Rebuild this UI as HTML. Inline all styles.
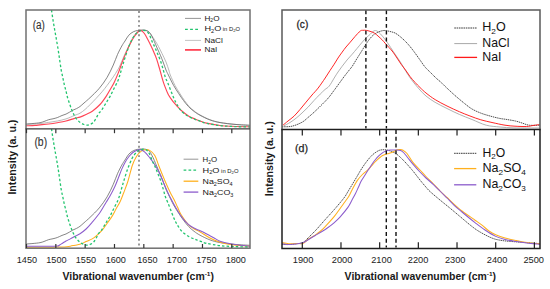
<!DOCTYPE html>
<html><head><meta charset="utf-8"><style>
html,body{margin:0;padding:0;background:#fff;}
svg{display:block;font-family:"Liberation Sans", sans-serif;}
</style></head><body>
<svg width="550" height="289" viewBox="0 0 550 289">
<defs><clipPath id="ca"><rect x="26" y="10" width="224" height="118.8"/></clipPath><clipPath id="cb"><rect x="26" y="128.8" width="224" height="119.2"/></clipPath><clipPath id="cc"><rect x="282" y="10" width="258" height="119"/></clipPath><clipPath id="cd"><rect x="282" y="129" width="258" height="119.4"/></clipPath></defs>
<g clip-path="url(#ca)">
<path d="M26.00,124.50 C27.17,124.43 30.67,124.25 33.00,124.10 C35.33,123.95 37.38,123.88 40.00,123.60 C42.62,123.32 45.82,122.83 48.70,122.40 C51.58,121.97 54.42,121.58 57.30,121.00 C60.18,120.42 63.12,119.83 66.00,118.90 C68.88,117.97 72.27,116.35 74.60,115.40 C76.93,114.45 78.27,114.18 80.00,113.20 C81.73,112.22 83.33,110.92 85.00,109.50 C86.67,108.08 88.17,106.53 90.00,104.70 C91.83,102.87 93.93,100.72 96.00,98.50 C98.07,96.28 100.57,93.57 102.40,91.40 C104.23,89.23 105.43,87.57 107.00,85.50 C108.57,83.43 110.38,81.00 111.80,79.00 C113.22,77.00 114.33,75.32 115.50,73.50 C116.67,71.68 117.80,70.02 118.80,68.10 C119.80,66.18 120.55,64.18 121.50,62.00 C122.45,59.82 123.45,57.33 124.50,55.00 C125.55,52.67 126.72,50.33 127.80,48.00 C128.88,45.67 129.88,43.17 131.00,41.00 C132.12,38.83 133.33,36.58 134.50,35.00 C135.67,33.42 136.67,32.30 138.00,31.50 C139.33,30.70 141.00,30.32 142.50,30.20 C144.00,30.08 145.58,30.08 147.00,30.80 C148.42,31.52 149.67,32.88 151.00,34.50 C152.33,36.12 153.75,38.50 155.00,40.50 C156.25,42.50 157.33,44.33 158.50,46.50 C159.67,48.67 160.75,50.92 162.00,53.50 C163.25,56.08 164.87,59.25 166.00,62.00 C167.13,64.75 168.08,67.83 168.80,70.00 C169.52,72.17 169.27,72.43 170.30,75.00 C171.33,77.57 173.38,82.28 175.00,85.40 C176.62,88.52 178.42,91.18 180.00,93.70 C181.58,96.22 182.95,98.35 184.50,100.50 C186.05,102.65 187.63,104.82 189.30,106.60 C190.97,108.38 192.63,109.78 194.50,111.20 C196.37,112.62 197.93,113.68 200.50,115.10 C203.07,116.52 206.65,118.48 209.90,119.70 C213.15,120.92 215.82,121.62 220.00,122.40 C224.18,123.18 230.00,123.92 235.00,124.40 C240.00,124.88 247.50,125.15 250.00,125.30" fill="none" stroke="#a8a8a8" stroke-width="0.8" stroke-linejoin="round"/>
<path d="M26.00,124.00 C27.17,123.92 30.67,123.72 33.00,123.50 C35.33,123.28 38.17,123.03 40.00,122.70 C41.83,122.37 42.55,122.00 44.00,121.50 C45.45,121.00 47.20,120.15 48.70,119.70 C50.20,119.25 51.57,119.15 53.00,118.80 C54.43,118.45 55.80,118.15 57.30,117.60 C58.80,117.05 60.55,116.08 62.00,115.50 C63.45,114.92 64.75,114.65 66.00,114.10 C67.25,113.55 68.35,112.85 69.50,112.20 C70.65,111.55 71.73,110.80 72.90,110.20 C74.07,109.60 75.32,109.22 76.50,108.60 C77.68,107.98 78.75,107.43 80.00,106.50 C81.25,105.57 82.33,104.47 84.00,103.00 C85.67,101.53 87.45,100.15 90.00,97.70 C92.55,95.25 96.45,91.68 99.30,88.30 C102.15,84.92 104.77,81.28 107.10,77.40 C109.43,73.52 111.57,68.82 113.30,65.00 C115.03,61.18 116.08,57.67 117.50,54.50 C118.92,51.33 120.55,48.25 121.80,46.00 C123.05,43.75 123.83,42.80 125.00,41.00 C126.17,39.20 127.42,36.73 128.80,35.20 C130.18,33.67 131.85,32.58 133.30,31.80 C134.75,31.02 136.13,30.78 137.50,30.50 C138.87,30.22 140.12,30.12 141.50,30.10 C142.88,30.08 144.45,29.98 145.80,30.40 C147.15,30.82 148.40,31.25 149.60,32.60 C150.80,33.95 152.00,36.52 153.00,38.50 C154.00,40.48 154.77,42.58 155.60,44.50 C156.43,46.42 157.18,48.17 158.00,50.00 C158.82,51.83 159.65,53.50 160.50,55.50 C161.35,57.50 162.18,59.58 163.10,62.00 C164.02,64.42 165.12,67.83 166.00,70.00 C166.88,72.17 167.13,72.43 168.40,75.00 C169.67,77.57 171.87,82.28 173.60,85.40 C175.33,88.52 177.15,91.18 178.80,93.70 C180.45,96.22 181.88,98.35 183.50,100.50 C185.12,102.65 186.75,104.78 188.50,106.60 C190.25,108.42 192.08,109.95 194.00,111.40 C195.92,112.85 197.35,113.88 200.00,115.30 C202.65,116.72 206.57,118.68 209.90,119.90 C213.23,121.12 215.82,121.85 220.00,122.60 C224.18,123.35 230.00,123.95 235.00,124.40 C240.00,124.85 247.50,125.15 250.00,125.30" fill="none" stroke="#666666" stroke-width="0.8" stroke-linejoin="round"/>
<path d="M26.00,125.80 C27.50,125.73 32.67,125.55 35.00,125.40 C37.33,125.25 37.72,125.13 40.00,124.90 C42.28,124.67 45.82,124.37 48.70,124.00 C51.58,123.63 54.42,123.20 57.30,122.70 C60.18,122.20 63.12,121.72 66.00,121.00 C68.88,120.28 72.27,119.05 74.60,118.40 C76.93,117.75 78.10,117.75 80.00,117.10 C81.90,116.45 83.95,115.48 86.00,114.50 C88.05,113.52 89.97,112.87 92.30,111.20 C94.63,109.53 97.67,107.02 100.00,104.50 C102.33,101.98 104.55,98.68 106.30,96.10 C108.05,93.52 109.15,91.35 110.50,89.00 C111.85,86.65 113.07,84.77 114.40,82.00 C115.73,79.23 117.40,75.15 118.50,72.40 C119.60,69.65 120.15,67.80 121.00,65.50 C121.85,63.20 122.73,60.77 123.60,58.60 C124.47,56.43 125.33,54.52 126.20,52.50 C127.07,50.48 127.93,48.33 128.80,46.50 C129.67,44.67 130.53,43.08 131.40,41.50 C132.27,39.92 133.13,38.33 134.00,37.00 C134.87,35.67 135.73,34.50 136.60,33.50 C137.47,32.50 138.47,31.52 139.20,31.00 C139.93,30.48 140.13,29.98 141.00,30.40 C141.87,30.82 143.27,31.98 144.40,33.50 C145.53,35.02 146.65,37.33 147.80,39.50 C148.95,41.67 150.27,44.33 151.30,46.50 C152.33,48.67 153.13,50.48 154.00,52.50 C154.87,54.52 155.73,56.43 156.50,58.60 C157.27,60.77 157.93,63.27 158.60,65.50 C159.27,67.73 159.87,69.75 160.50,72.00 C161.13,74.25 161.73,76.77 162.40,79.00 C163.07,81.23 163.50,82.78 164.50,85.40 C165.50,88.02 166.88,91.90 168.40,94.70 C169.92,97.50 172.23,100.38 173.60,102.20 C174.97,104.02 175.22,104.13 176.60,105.60 C177.98,107.07 179.87,109.23 181.90,111.00 C183.93,112.77 186.62,114.87 188.80,116.20 C190.98,117.53 193.13,118.20 195.00,119.00 C196.87,119.80 198.08,120.32 200.00,121.00 C201.92,121.68 203.17,122.35 206.50,123.10 C209.83,123.85 216.02,124.97 220.00,125.50 C223.98,126.03 225.40,126.08 230.40,126.30 C235.40,126.52 246.73,126.72 250.00,126.80" fill="none" stroke="#ff4455" stroke-width="1.15" stroke-linejoin="round"/>
<path d="M51.50,10.00 C51.75,11.67 52.47,16.67 53.00,20.00 C53.53,23.33 54.12,26.67 54.70,30.00 C55.28,33.33 55.92,36.67 56.50,40.00 C57.08,43.33 57.67,46.67 58.20,50.00 C58.73,53.33 59.20,56.65 59.70,60.00 C60.20,63.35 60.68,67.18 61.20,70.10 C61.72,73.02 62.28,75.08 62.80,77.50 C63.32,79.92 63.77,82.35 64.30,84.60 C64.83,86.85 65.48,88.93 66.00,91.00 C66.52,93.07 66.82,94.92 67.40,97.00 C67.98,99.08 68.80,101.42 69.50,103.50 C70.20,105.58 70.92,107.75 71.60,109.50 C72.28,111.25 72.92,112.62 73.60,114.00 C74.28,115.38 74.92,116.67 75.70,117.80 C76.48,118.93 77.43,119.93 78.30,120.80 C79.17,121.67 79.95,122.38 80.90,123.00 C81.85,123.62 82.95,124.15 84.00,124.50 C85.05,124.85 86.15,125.13 87.20,125.10 C88.25,125.07 89.27,124.75 90.30,124.30 C91.33,123.85 92.45,123.37 93.40,122.40 C94.35,121.43 95.13,119.97 96.00,118.50 C96.87,117.03 97.65,115.02 98.60,113.60 C99.55,112.18 100.47,111.77 101.70,110.00 C102.93,108.23 104.58,105.32 106.00,103.00 C107.42,100.68 108.87,98.52 110.20,96.10 C111.53,93.68 112.70,91.08 114.00,88.50 C115.30,85.92 117.00,82.93 118.00,80.60 C119.00,78.27 119.35,76.58 120.00,74.50 C120.65,72.42 121.23,70.35 121.90,68.10 C122.57,65.85 123.05,64.02 124.00,61.00 C124.95,57.98 126.28,53.55 127.60,50.00 C128.92,46.45 130.67,42.20 131.90,39.70 C133.13,37.20 134.07,36.23 135.00,35.00 C135.93,33.77 136.58,33.00 137.50,32.30 C138.42,31.60 139.42,31.12 140.50,30.80 C141.58,30.48 142.92,30.28 144.00,30.40 C145.08,30.52 146.08,30.73 147.00,31.50 C147.92,32.27 148.62,33.27 149.50,35.00 C150.38,36.73 151.38,39.82 152.30,41.90 C153.22,43.98 154.13,45.57 155.00,47.50 C155.87,49.43 156.58,51.25 157.50,53.50 C158.42,55.75 159.53,58.25 160.50,61.00 C161.47,63.75 162.50,67.32 163.30,70.00 C164.10,72.68 164.53,74.88 165.30,77.10 C166.07,79.32 166.95,80.97 167.90,83.30 C168.85,85.63 169.97,88.50 171.00,91.10 C172.03,93.70 173.12,96.70 174.10,98.90 C175.08,101.10 175.60,102.18 176.90,104.30 C178.20,106.42 179.92,109.55 181.90,111.60 C183.88,113.65 186.62,115.32 188.80,116.60 C190.98,117.88 193.13,118.55 195.00,119.30 C196.87,120.05 198.08,120.43 200.00,121.10 C201.92,121.77 203.17,122.55 206.50,123.30 C209.83,124.05 215.25,125.05 220.00,125.60 C224.75,126.15 230.00,126.37 235.00,126.60 C240.00,126.83 247.50,126.93 250.00,127.00" fill="none" stroke="#22c46e" stroke-width="1.3" stroke-dasharray="2.5 2.1" stroke-linejoin="round"/>
</g>
<g clip-path="url(#cb)">
<path d="M26.00,244.00 C27.17,243.91 30.67,243.71 33.00,243.49 C35.33,243.27 38.17,243.02 40.00,242.68 C41.83,242.34 42.55,241.97 44.00,241.47 C45.45,240.96 47.20,240.10 48.70,239.64 C50.20,239.19 51.57,239.09 53.00,238.73 C54.43,238.38 55.80,238.08 57.30,237.52 C58.80,236.96 60.55,235.99 62.00,235.40 C63.45,234.81 64.75,234.54 66.00,233.98 C67.25,233.42 68.35,232.71 69.50,232.06 C70.65,231.40 71.73,230.64 72.90,230.03 C74.07,229.43 75.32,229.04 76.50,228.41 C77.68,227.79 78.75,227.23 80.00,226.29 C81.25,225.35 82.33,224.23 84.00,222.75 C85.67,221.27 87.45,219.87 90.00,217.39 C92.55,214.91 96.45,211.30 99.30,207.88 C102.15,204.45 104.77,200.78 107.10,196.85 C109.43,192.92 111.57,188.17 113.30,184.30 C115.03,180.44 116.08,176.89 117.50,173.68 C118.92,170.48 120.55,167.36 121.80,165.08 C123.05,162.81 123.83,161.85 125.00,160.02 C126.17,158.20 127.42,155.71 128.80,154.16 C130.18,152.60 131.85,151.51 133.30,150.72 C134.75,149.92 136.13,149.69 137.50,149.40 C138.87,149.11 140.12,149.01 141.50,149.00 C142.88,148.98 144.45,148.88 145.80,149.30 C147.15,149.72 148.40,150.16 149.60,151.53 C150.80,152.89 152.00,155.49 153.00,157.49 C154.00,159.50 154.77,161.63 155.60,163.56 C156.43,165.50 157.18,167.27 158.00,169.13 C158.82,170.98 159.65,172.67 160.50,174.69 C161.35,176.72 162.18,178.82 163.10,181.27 C164.02,183.71 165.12,187.17 166.00,189.36 C166.88,191.56 167.13,191.83 168.40,194.42 C169.67,197.02 171.87,201.79 173.60,204.94 C175.33,208.10 177.15,210.79 178.80,213.34 C180.45,215.89 181.88,218.05 183.50,220.22 C185.12,222.40 186.75,224.55 188.50,226.39 C190.25,228.23 192.08,229.78 194.00,231.25 C195.92,232.71 197.35,233.76 200.00,235.19 C202.65,236.63 206.57,238.62 209.90,239.85 C213.23,241.08 215.82,241.82 220.00,242.58 C224.18,243.34 230.00,243.94 235.00,244.40 C240.00,244.86 247.50,245.16 250.00,245.31" fill="none" stroke="#666666" stroke-width="0.8" stroke-linejoin="round"/>
<path d="M26.00,247.30 C29.17,247.30 39.83,247.33 45.00,247.30 C50.17,247.27 53.80,247.15 57.00,247.10 C60.20,247.05 61.98,247.15 64.20,247.00 C66.42,246.85 68.50,246.50 70.30,246.20 C72.10,245.90 73.38,245.52 75.00,245.20 C76.62,244.88 78.17,244.90 80.00,244.30 C81.83,243.70 83.97,242.50 86.00,241.60 C88.03,240.70 90.37,239.97 92.20,238.90 C94.03,237.83 95.33,236.65 97.00,235.20 C98.67,233.75 100.53,232.15 102.20,230.20 C103.87,228.25 105.33,225.85 107.00,223.50 C108.67,221.15 110.70,218.52 112.20,216.10 C113.70,213.68 114.67,211.43 116.00,209.00 C117.33,206.57 118.93,204.17 120.20,201.50 C121.47,198.83 122.30,196.42 123.60,193.00 C124.90,189.58 126.55,185.58 128.00,181.00 C129.45,176.42 130.87,169.62 132.30,165.50 C133.73,161.38 135.17,158.67 136.60,156.30 C138.03,153.93 139.45,152.40 140.90,151.30 C142.35,150.20 143.85,149.85 145.30,149.70 C146.75,149.55 148.02,149.45 149.60,150.40 C151.18,151.35 153.32,152.97 154.80,155.40 C156.28,157.83 157.22,161.73 158.50,165.00 C159.78,168.27 161.07,171.53 162.50,175.00 C163.93,178.47 165.77,182.80 167.10,185.80 C168.43,188.80 169.35,190.70 170.50,193.00 C171.65,195.30 172.83,197.27 174.00,199.60 C175.17,201.93 176.33,204.52 177.50,207.00 C178.67,209.48 179.20,211.58 181.00,214.50 C182.80,217.42 186.13,222.12 188.30,224.50 C190.47,226.88 192.02,227.55 194.00,228.80 C195.98,230.05 197.55,230.47 200.20,232.00 C202.85,233.53 206.57,236.28 209.90,238.00 C213.23,239.72 216.78,241.22 220.20,242.30 C223.62,243.38 227.10,243.97 230.40,244.50 C233.70,245.03 236.73,245.22 240.00,245.50 C243.27,245.78 248.33,246.08 250.00,246.20" fill="none" stroke="#ffb01e" stroke-width="1.05" stroke-linejoin="round"/>
<path d="M26.00,246.30 C28.33,246.28 36.00,246.22 40.00,246.20 C44.00,246.18 47.12,246.22 50.00,246.20 C52.88,246.18 55.63,246.33 57.30,246.10 C58.97,245.87 59.13,245.28 60.00,244.80 C60.87,244.32 61.50,243.83 62.50,243.20 C63.50,242.57 64.70,241.72 66.00,241.00 C67.30,240.28 68.80,239.68 70.30,238.90 C71.80,238.12 73.38,237.17 75.00,236.30 C76.62,235.43 78.15,234.92 80.00,233.70 C81.85,232.48 84.10,230.87 86.10,229.00 C88.10,227.13 89.68,225.25 92.00,222.50 C94.32,219.75 97.67,215.83 100.00,212.50 C102.33,209.17 104.33,205.25 106.00,202.50 C107.67,199.75 108.50,198.72 110.00,196.00 C111.50,193.28 113.58,189.28 115.00,186.20 C116.42,183.12 117.35,180.38 118.50,177.50 C119.65,174.62 120.77,171.48 121.90,168.90 C123.03,166.32 124.15,164.02 125.30,162.00 C126.45,159.98 127.63,158.30 128.80,156.80 C129.97,155.30 131.13,154.00 132.30,153.00 C133.47,152.00 134.50,151.37 135.80,150.80 C137.10,150.23 138.90,149.60 140.10,149.60 C141.30,149.60 142.00,150.17 143.00,150.80 C144.00,151.43 145.02,152.28 146.10,153.40 C147.18,154.52 148.35,156.07 149.50,157.50 C150.65,158.93 151.83,160.33 153.00,162.00 C154.17,163.67 155.33,165.42 156.50,167.50 C157.67,169.58 158.92,172.17 160.00,174.50 C161.08,176.83 161.92,179.00 163.00,181.50 C164.08,184.00 165.42,187.08 166.50,189.50 C167.58,191.92 168.53,194.03 169.50,196.00 C170.47,197.97 171.22,199.30 172.30,201.30 C173.38,203.30 174.70,205.75 176.00,208.00 C177.30,210.25 178.77,212.83 180.10,214.80 C181.43,216.77 182.63,218.22 184.00,219.80 C185.37,221.38 186.80,223.02 188.30,224.30 C189.80,225.58 191.35,226.57 193.00,227.50 C194.65,228.43 196.37,229.07 198.20,229.90 C200.03,230.73 202.05,231.53 204.00,232.50 C205.95,233.47 208.07,234.70 209.90,235.70 C211.73,236.70 213.32,237.58 215.00,238.50 C216.68,239.42 217.43,240.32 220.00,241.20 C222.57,242.08 227.07,243.12 230.40,243.80 C233.73,244.48 236.73,244.90 240.00,245.30 C243.27,245.70 248.33,246.05 250.00,246.20" fill="none" stroke="#8c5ccc" stroke-width="1.05" stroke-linejoin="round"/>
<path d="M51.50,128.80 C51.75,130.46 52.47,135.43 53.00,138.78 C53.53,142.13 54.12,145.52 54.70,148.90 C55.28,152.27 55.92,155.64 56.50,159.01 C57.08,162.38 57.67,165.76 58.20,169.13 C58.73,172.50 59.20,175.86 59.70,179.25 C60.20,182.64 60.68,186.51 61.20,189.46 C61.72,192.42 62.28,194.51 62.80,196.95 C63.32,199.40 63.77,201.86 64.30,204.13 C64.83,206.41 65.48,208.52 66.00,210.61 C66.52,212.70 66.82,214.57 67.40,216.68 C67.98,218.79 68.80,221.15 69.50,223.26 C70.20,225.36 70.92,227.55 71.60,229.33 C72.28,231.10 72.92,232.48 73.60,233.88 C74.28,235.28 74.92,236.58 75.70,237.72 C76.48,238.87 77.43,239.88 78.30,240.76 C79.17,241.63 79.95,242.36 80.90,242.98 C81.85,243.61 82.95,244.15 84.00,244.50 C85.05,244.86 86.15,245.14 87.20,245.11 C88.25,245.07 89.27,244.75 90.30,244.30 C91.33,243.84 92.45,243.35 93.40,242.38 C94.35,241.40 95.13,239.91 96.00,238.43 C96.87,236.95 97.65,234.91 98.60,233.47 C99.55,232.04 100.47,231.62 101.70,229.83 C102.93,228.04 104.58,225.09 106.00,222.75 C107.42,220.41 108.87,218.21 110.20,215.77 C111.53,213.32 112.70,210.69 114.00,208.08 C115.30,205.47 117.00,202.45 118.00,200.09 C119.00,197.73 119.35,196.02 120.00,193.92 C120.65,191.81 121.23,189.72 121.90,187.44 C122.57,185.16 123.05,183.31 124.00,180.26 C124.95,177.21 126.28,172.72 127.60,169.13 C128.92,165.54 130.67,161.24 131.90,158.71 C133.13,156.18 134.07,155.20 135.00,153.95 C135.93,152.71 136.58,151.93 137.50,151.22 C138.42,150.51 139.42,150.03 140.50,149.70 C141.58,149.38 142.92,149.18 144.00,149.30 C145.08,149.42 146.08,149.64 147.00,150.41 C147.92,151.19 148.62,152.20 149.50,153.95 C150.38,155.71 151.38,158.83 152.30,160.93 C153.22,163.04 154.13,164.64 155.00,166.60 C155.87,168.56 156.58,170.39 157.50,172.67 C158.42,174.95 159.53,177.48 160.50,180.26 C161.47,183.04 162.50,186.65 163.30,189.36 C164.10,192.08 164.53,194.30 165.30,196.55 C166.07,198.79 166.95,200.46 167.90,202.82 C168.85,205.18 169.97,208.08 171.00,210.71 C172.03,213.34 173.12,216.38 174.10,218.60 C175.08,220.83 175.60,221.92 176.90,224.06 C178.20,226.21 179.92,229.38 181.90,231.45 C183.88,233.52 186.62,235.21 188.80,236.51 C190.98,237.81 193.13,238.48 195.00,239.24 C196.87,240.00 198.08,240.39 200.00,241.06 C201.92,241.74 203.17,242.53 206.50,243.29 C209.83,244.05 215.25,245.06 220.00,245.61 C224.75,246.17 230.00,246.39 235.00,246.63 C240.00,246.86 247.50,246.96 250.00,247.03" fill="none" stroke="#22c46e" stroke-width="1.3" stroke-dasharray="2.5 2.1" stroke-linejoin="round"/>
</g>
<g clip-path="url(#cc)">
<path d="M284.00,125.80 C285.00,125.25 287.98,123.77 290.00,122.50 C292.02,121.23 294.10,119.78 296.10,118.20 C298.10,116.62 300.00,114.85 302.00,113.00 C304.00,111.15 306.10,109.18 308.10,107.10 C310.10,105.02 311.98,102.67 314.00,100.50 C316.02,98.33 318.37,95.93 320.20,94.10 C322.03,92.27 323.50,90.83 325.00,89.50 C326.50,88.17 327.67,88.02 329.20,86.10 C330.73,84.18 332.73,80.35 334.20,78.00 C335.67,75.65 336.67,73.97 338.00,72.00 C339.33,70.03 340.70,68.20 342.20,66.20 C343.70,64.20 345.32,62.02 347.00,60.00 C348.68,57.98 350.63,56.02 352.30,54.10 C353.97,52.18 355.33,50.50 357.00,48.50 C358.67,46.50 360.80,43.85 362.30,42.10 C363.80,40.35 364.65,39.33 366.00,38.00 C367.35,36.67 369.23,35.18 370.40,34.10 C371.57,33.02 372.17,32.10 373.00,31.50 C373.83,30.90 374.48,30.42 375.40,30.50 C376.32,30.58 377.33,31.07 378.50,32.00 C379.67,32.93 381.23,34.77 382.40,36.10 C383.57,37.43 384.50,38.67 385.50,40.00 C386.50,41.33 387.15,42.25 388.40,44.10 C389.65,45.95 391.57,48.95 393.00,51.10 C394.43,53.25 395.65,54.98 397.00,57.00 C398.35,59.02 399.60,60.78 401.10,63.20 C402.60,65.62 404.33,68.83 406.00,71.50 C407.67,74.17 408.95,76.32 411.10,79.20 C413.25,82.08 416.42,86.00 418.90,88.80 C421.38,91.60 423.30,93.75 426.00,96.00 C428.70,98.25 431.60,100.22 435.10,102.30 C438.60,104.38 442.97,106.48 447.00,108.50 C451.03,110.52 455.13,112.57 459.30,114.40 C463.47,116.23 467.52,117.70 472.00,119.50 C476.48,121.30 481.53,123.95 486.20,125.20 C490.87,126.45 495.52,126.55 500.00,127.00 C504.48,127.45 508.43,127.73 513.10,127.90 C517.77,128.07 523.68,127.98 528.00,128.00 C532.32,128.02 537.17,128.00 539.00,128.00" fill="none" stroke="#a8a8a8" stroke-width="0.9" stroke-linejoin="round"/>
<path d="M282.00,126.80 C283.67,126.70 288.65,126.97 292.00,126.20 C295.35,125.43 299.43,123.65 302.10,122.20 C304.77,120.75 306.00,119.17 308.00,117.50 C310.00,115.83 311.93,114.20 314.10,112.20 C316.27,110.20 318.65,107.85 321.00,105.50 C323.35,103.15 326.03,100.60 328.20,98.10 C330.37,95.60 332.00,93.18 334.00,90.50 C336.00,87.82 338.50,84.33 340.20,82.00 C341.90,79.67 342.68,78.50 344.20,76.50 C345.72,74.50 347.95,71.72 349.30,70.00 C350.65,68.28 351.02,68.12 352.30,66.20 C353.58,64.28 355.33,61.18 357.00,58.50 C358.67,55.82 360.80,52.52 362.30,50.10 C363.80,47.68 364.65,46.00 366.00,44.00 C367.35,42.00 369.07,39.68 370.40,38.10 C371.73,36.52 372.67,35.52 374.00,34.50 C375.33,33.48 377.07,32.62 378.40,32.00 C379.73,31.38 380.83,31.05 382.00,30.80 C383.17,30.55 384.07,30.38 385.40,30.50 C386.73,30.62 388.40,31.08 390.00,31.50 C391.60,31.92 393.33,32.17 395.00,33.00 C396.67,33.83 398.32,35.15 400.00,36.50 C401.68,37.85 403.43,39.43 405.10,41.10 C406.77,42.77 408.33,44.50 410.00,46.50 C411.67,48.50 413.43,50.85 415.10,53.10 C416.77,55.35 418.32,57.65 420.00,60.00 C421.68,62.35 423.33,65.00 425.20,67.20 C427.07,69.40 429.40,71.40 431.20,73.20 C433.00,75.00 434.33,76.45 436.00,78.00 C437.67,79.55 439.57,81.00 441.20,82.50 C442.83,84.00 443.50,84.83 445.80,87.00 C448.10,89.17 451.85,92.73 455.00,95.50 C458.15,98.27 461.87,101.35 464.70,103.60 C467.53,105.85 469.32,107.42 472.00,109.00 C474.68,110.58 477.80,111.93 480.80,113.10 C483.80,114.27 486.87,115.12 490.00,116.00 C493.13,116.88 496.77,117.82 499.60,118.40 C502.43,118.98 504.30,119.05 507.00,119.50 C509.70,119.95 513.30,120.52 515.80,121.10 C518.30,121.68 519.77,122.32 522.00,123.00 C524.23,123.68 526.28,124.83 529.20,125.20 C532.12,125.57 537.78,125.20 539.50,125.20" fill="none" stroke="#444" stroke-width="0.95" stroke-dasharray="1.5 0.7" stroke-linejoin="round"/>
<path d="M283.00,125.20 C283.83,124.50 286.17,122.50 288.00,121.00 C289.83,119.50 292.00,118.12 294.00,116.20 C296.00,114.28 297.98,111.85 300.00,109.50 C302.02,107.15 304.10,104.52 306.10,102.10 C308.10,99.68 310.00,97.33 312.00,95.00 C314.00,92.67 315.90,90.93 318.10,88.10 C320.30,85.27 323.22,80.93 325.20,78.00 C327.18,75.07 328.50,72.80 330.00,70.50 C331.50,68.20 332.87,66.28 334.20,64.20 C335.53,62.12 336.67,60.02 338.00,58.00 C339.33,55.98 340.87,53.93 342.20,52.10 C343.53,50.27 344.65,48.67 346.00,47.00 C347.35,45.33 348.80,43.85 350.30,42.10 C351.80,40.35 353.33,38.35 355.00,36.50 C356.67,34.65 358.97,32.03 360.30,31.00 C361.63,29.97 362.00,30.40 363.00,30.30 C364.00,30.20 365.13,30.23 366.30,30.40 C367.47,30.57 368.65,30.85 370.00,31.30 C371.35,31.75 373.07,32.32 374.40,33.10 C375.73,33.88 376.67,34.83 378.00,36.00 C379.33,37.17 381.23,38.92 382.40,40.10 C383.57,41.28 383.90,41.87 385.00,43.10 C386.10,44.33 387.67,46.00 389.00,47.50 C390.33,49.00 391.67,50.35 393.00,52.10 C394.33,53.85 395.65,55.98 397.00,58.00 C398.35,60.02 399.68,62.20 401.10,64.20 C402.52,66.20 404.02,67.95 405.50,70.00 C406.98,72.05 408.40,74.42 410.00,76.50 C411.60,78.58 413.43,80.67 415.10,82.50 C416.77,84.33 418.18,85.75 420.00,87.50 C421.82,89.25 423.48,90.98 426.00,93.00 C428.52,95.02 431.60,97.43 435.10,99.60 C438.60,101.77 442.97,103.98 447.00,106.00 C451.03,108.02 455.47,110.03 459.30,111.70 C463.13,113.37 466.42,114.65 470.00,116.00 C473.58,117.35 477.13,118.72 480.80,119.80 C484.47,120.88 487.97,121.60 492.00,122.50 C496.03,123.40 501.17,124.58 505.00,125.20 C508.83,125.82 511.40,125.98 515.00,126.20 C518.60,126.42 523.60,126.62 526.60,126.50 C529.60,126.38 530.85,125.82 533.00,125.50 C535.15,125.18 538.42,124.75 539.50,124.60" fill="none" stroke="#ff1a1a" stroke-width="0.95" stroke-linejoin="round"/>
</g>
<g clip-path="url(#cd)">
<path d="M282.00,244.50 C283.33,244.50 287.67,244.62 290.00,244.50 C292.33,244.38 293.87,244.12 296.00,243.80 C298.13,243.48 300.63,243.73 302.80,242.60 C304.97,241.47 306.80,239.10 309.00,237.00 C311.20,234.90 313.33,232.87 316.00,230.00 C318.67,227.13 321.92,223.25 325.00,219.80 C328.08,216.35 331.33,212.95 334.50,209.30 C337.67,205.65 341.75,200.87 344.00,197.90 C346.25,194.93 346.67,193.67 348.00,191.50 C349.33,189.33 350.47,187.45 352.00,184.90 C353.53,182.35 355.78,178.60 357.20,176.20 C358.62,173.80 359.35,172.37 360.50,170.50 C361.65,168.63 362.85,166.78 364.10,165.00 C365.35,163.22 366.67,161.43 368.00,159.80 C369.33,158.17 370.77,156.47 372.10,155.20 C373.43,153.93 374.83,153.00 376.00,152.20 C377.17,151.40 378.10,150.80 379.10,150.40 C380.10,150.00 381.08,149.92 382.00,149.80 C382.92,149.68 383.60,149.63 384.60,149.70 C385.60,149.77 386.93,149.95 388.00,150.20 C389.07,150.45 389.75,150.68 391.00,151.20 C392.25,151.72 394.00,152.33 395.50,153.30 C397.00,154.27 398.42,155.55 400.00,157.00 C401.58,158.45 402.88,159.72 405.00,162.00 C407.12,164.28 410.20,167.70 412.70,170.70 C415.20,173.70 417.95,177.45 420.00,180.00 C422.05,182.55 423.33,184.08 425.00,186.00 C426.67,187.92 427.50,189.17 430.00,191.50 C432.50,193.83 436.53,197.12 440.00,200.00 C443.47,202.88 447.47,206.05 450.80,208.80 C454.13,211.55 456.55,213.62 460.00,216.50 C463.45,219.38 468.17,223.52 471.50,226.10 C474.83,228.68 476.53,229.98 480.00,232.00 C483.47,234.02 488.63,236.78 492.30,238.20 C495.97,239.62 498.55,239.93 502.00,240.50 C505.45,241.07 509.17,241.27 513.00,241.60 C516.83,241.93 520.97,242.20 525.00,242.50 C529.03,242.80 534.70,243.23 537.20,243.40 C539.70,243.57 539.53,243.48 540.00,243.50" fill="none" stroke="#444" stroke-width="0.95" stroke-dasharray="1.5 0.7" stroke-linejoin="round"/>
<path d="M282.00,242.80 C282.67,242.87 284.67,243.03 286.00,243.20 C287.33,243.37 288.33,243.75 290.00,243.80 C291.67,243.85 293.87,243.57 296.00,243.50 C298.13,243.43 300.80,244.07 302.80,243.40 C304.80,242.73 305.93,240.88 308.00,239.50 C310.07,238.12 313.20,236.43 315.20,235.10 C317.20,233.77 318.37,232.88 320.00,231.50 C321.63,230.12 322.58,229.35 325.00,226.80 C327.42,224.25 331.33,220.17 334.50,216.20 C337.67,212.23 341.58,206.37 344.00,203.00 C346.42,199.63 347.67,198.17 349.00,196.00 C350.33,193.83 350.63,192.57 352.00,190.00 C353.37,187.43 355.47,183.18 357.20,180.60 C358.93,178.02 360.67,176.23 362.40,174.50 C364.13,172.77 366.17,171.53 367.60,170.20 C369.03,168.87 369.85,167.78 371.00,166.50 C372.15,165.22 373.38,163.68 374.50,162.50 C375.62,161.32 376.70,160.32 377.70,159.40 C378.70,158.48 379.58,157.70 380.50,157.00 C381.42,156.30 382.05,155.73 383.20,155.20 C384.35,154.67 386.27,154.15 387.40,153.80 C388.53,153.45 389.07,153.40 390.00,153.10 C390.93,152.80 392.08,152.43 393.00,152.00 C393.92,151.57 394.78,150.87 395.50,150.50 C396.22,150.13 396.55,149.95 397.30,149.80 C398.05,149.65 399.05,149.52 400.00,149.60 C400.95,149.68 401.83,149.65 403.00,150.30 C404.17,150.95 405.38,151.53 407.00,153.50 C408.62,155.47 410.53,159.35 412.70,162.10 C414.87,164.85 417.78,167.60 420.00,170.00 C422.22,172.40 423.75,174.17 426.00,176.50 C428.25,178.83 431.17,181.58 433.50,184.00 C435.83,186.42 437.75,188.75 440.00,191.00 C442.25,193.25 444.63,195.28 447.00,197.50 C449.37,199.72 451.70,202.05 454.20,204.30 C456.70,206.55 459.37,208.95 462.00,211.00 C464.63,213.05 467.83,215.07 470.00,216.60 C472.17,218.13 473.00,218.77 475.00,220.20 C477.00,221.63 479.67,223.40 482.00,225.20 C484.33,227.00 486.72,229.42 489.00,231.00 C491.28,232.58 493.03,233.53 495.70,234.70 C498.37,235.87 501.53,237.02 505.00,238.00 C508.47,238.98 512.83,239.83 516.50,240.60 C520.17,241.37 523.55,242.10 527.00,242.60 C530.45,243.10 535.03,243.40 537.20,243.60 C539.37,243.80 539.53,243.77 540.00,243.80" fill="none" stroke="#ffb01e" stroke-width="1.05" stroke-linejoin="round"/>
<path d="M282.00,243.80 C283.33,243.92 287.67,244.47 290.00,244.50 C292.33,244.53 293.87,244.28 296.00,244.00 C298.13,243.72 300.63,243.60 302.80,242.80 C304.97,242.00 306.93,240.42 309.00,239.20 C311.07,237.98 313.03,236.78 315.20,235.50 C317.37,234.22 319.87,232.83 322.00,231.50 C324.13,230.17 326.00,228.95 328.00,227.50 C330.00,226.05 331.97,224.58 334.00,222.80 C336.03,221.02 337.88,219.37 340.20,216.80 C342.52,214.23 345.93,210.20 347.90,207.40 C349.87,204.60 350.73,202.32 352.00,200.00 C353.27,197.68 354.42,195.67 355.50,193.50 C356.58,191.33 357.50,189.15 358.50,187.00 C359.50,184.85 360.28,182.82 361.50,180.60 C362.72,178.38 364.50,175.75 365.80,173.70 C367.10,171.65 368.18,170.00 369.30,168.30 C370.42,166.60 371.47,164.97 372.50,163.50 C373.53,162.03 374.50,160.72 375.50,159.50 C376.50,158.28 377.45,157.23 378.50,156.20 C379.55,155.17 380.80,154.07 381.80,153.30 C382.80,152.53 383.57,152.07 384.50,151.60 C385.43,151.13 386.48,150.75 387.40,150.50 C388.32,150.25 388.65,150.18 390.00,150.10 C391.35,150.02 393.73,149.93 395.50,150.00 C397.27,150.07 399.18,150.00 400.60,150.50 C402.02,151.00 402.77,151.75 404.00,153.00 C405.23,154.25 406.55,156.20 408.00,158.00 C409.45,159.80 410.70,161.47 412.70,163.80 C414.70,166.13 417.78,169.63 420.00,172.00 C422.22,174.37 423.75,175.90 426.00,178.00 C428.25,180.10 431.17,182.43 433.50,184.60 C435.83,186.77 437.75,188.77 440.00,191.00 C442.25,193.23 444.63,195.62 447.00,198.00 C449.37,200.38 451.70,202.97 454.20,205.30 C456.70,207.63 459.70,210.05 462.00,212.00 C464.30,213.95 465.83,215.23 468.00,217.00 C470.17,218.77 472.17,220.43 475.00,222.60 C477.83,224.77 481.55,227.70 485.00,230.00 C488.45,232.30 492.37,234.82 495.70,236.40 C499.03,237.98 501.53,238.63 505.00,239.50 C508.47,240.37 512.83,241.02 516.50,241.60 C520.17,242.18 523.55,242.60 527.00,243.00 C530.45,243.40 535.03,243.80 537.20,244.00 C539.37,244.20 539.53,244.17 540.00,244.20" fill="none" stroke="#8c5ccc" stroke-width="1.05" stroke-linejoin="round"/>
</g>
<line x1="139" y1="11" x2="139" y2="247.5" stroke="#666" stroke-width="1.35" stroke-dasharray="1.9 2.75"/>
<line x1="365.9" y1="10.3" x2="365.9" y2="128.5" stroke="#111" stroke-width="1.4" stroke-dasharray="3.9 2.9"/>
<line x1="386.4" y1="10.3" x2="386.4" y2="128.5" stroke="#111" stroke-width="1.4" stroke-dasharray="3.9 2.9"/>
<line x1="386.3" y1="130" x2="386.3" y2="247.5" stroke="#111" stroke-width="1.4" stroke-dasharray="3.9 2.9"/>
<line x1="396" y1="130" x2="396" y2="247.5" stroke="#111" stroke-width="1.4" stroke-dasharray="3.9 2.9"/>
<rect x="26" y="10" width="224" height="238.2" fill="none" stroke="#707070" stroke-width="1.5"/>
<line x1="25.5" y1="128.9" x2="250" y2="128.9" stroke="#3a3a3a" stroke-width="1.4"/>
<path d="M282,129.4 V10 H540 V129.4" fill="none" stroke="#5a5a5a" stroke-width="1.5"/>
<path d="M282,129.4 V248.5 H540 V129.4" fill="none" stroke="#1e1e1e" stroke-width="1.5"/>
<line x1="281.25" y1="129.4" x2="540.75" y2="129.4" stroke="#1e1e1e" stroke-width="1.5"/>
<line x1="26.50" y1="128.9" x2="26.50" y2="133.2" stroke="#333" stroke-width="1.2"/>
<line x1="26.50" y1="248" x2="26.50" y2="244" stroke="#333" stroke-width="1.2"/>
<line x1="55.83" y1="128.9" x2="55.83" y2="133.2" stroke="#333" stroke-width="1.2"/>
<line x1="55.83" y1="248" x2="55.83" y2="244" stroke="#333" stroke-width="1.2"/>
<line x1="85.16" y1="128.9" x2="85.16" y2="133.2" stroke="#333" stroke-width="1.2"/>
<line x1="85.16" y1="248" x2="85.16" y2="244" stroke="#333" stroke-width="1.2"/>
<line x1="114.49" y1="128.9" x2="114.49" y2="133.2" stroke="#333" stroke-width="1.2"/>
<line x1="114.49" y1="248" x2="114.49" y2="244" stroke="#333" stroke-width="1.2"/>
<line x1="143.82" y1="128.9" x2="143.82" y2="133.2" stroke="#333" stroke-width="1.2"/>
<line x1="143.82" y1="248" x2="143.82" y2="244" stroke="#333" stroke-width="1.2"/>
<line x1="173.15" y1="128.9" x2="173.15" y2="133.2" stroke="#333" stroke-width="1.2"/>
<line x1="173.15" y1="248" x2="173.15" y2="244" stroke="#333" stroke-width="1.2"/>
<line x1="202.48" y1="128.9" x2="202.48" y2="133.2" stroke="#333" stroke-width="1.2"/>
<line x1="202.48" y1="248" x2="202.48" y2="244" stroke="#333" stroke-width="1.2"/>
<line x1="231.81" y1="128.9" x2="231.81" y2="133.2" stroke="#333" stroke-width="1.2"/>
<line x1="231.81" y1="248" x2="231.81" y2="244" stroke="#333" stroke-width="1.2"/>
<line x1="302.30" y1="129.4" x2="302.30" y2="135.4" stroke="#1e1e1e" stroke-width="1.2"/>
<line x1="302.30" y1="248.5" x2="302.30" y2="242.3" stroke="#1e1e1e" stroke-width="1.2"/>
<line x1="340.98" y1="129.4" x2="340.98" y2="135.4" stroke="#1e1e1e" stroke-width="1.2"/>
<line x1="340.98" y1="248.5" x2="340.98" y2="242.3" stroke="#1e1e1e" stroke-width="1.2"/>
<line x1="379.66" y1="129.4" x2="379.66" y2="135.4" stroke="#1e1e1e" stroke-width="1.2"/>
<line x1="379.66" y1="248.5" x2="379.66" y2="242.3" stroke="#1e1e1e" stroke-width="1.2"/>
<line x1="418.34" y1="129.4" x2="418.34" y2="135.4" stroke="#1e1e1e" stroke-width="1.2"/>
<line x1="418.34" y1="248.5" x2="418.34" y2="242.3" stroke="#1e1e1e" stroke-width="1.2"/>
<line x1="457.02" y1="129.4" x2="457.02" y2="135.4" stroke="#1e1e1e" stroke-width="1.2"/>
<line x1="457.02" y1="248.5" x2="457.02" y2="242.3" stroke="#1e1e1e" stroke-width="1.2"/>
<line x1="495.70" y1="129.4" x2="495.70" y2="135.4" stroke="#1e1e1e" stroke-width="1.2"/>
<line x1="495.70" y1="248.5" x2="495.70" y2="242.3" stroke="#1e1e1e" stroke-width="1.2"/>
<line x1="534.38" y1="129.4" x2="534.38" y2="135.4" stroke="#1e1e1e" stroke-width="1.2"/>
<line x1="534.38" y1="248.5" x2="534.38" y2="242.3" stroke="#1e1e1e" stroke-width="1.2"/>
<text x="26.90" y="263.1" font-size="9.9" text-anchor="middle" font-weight="normal" fill="#222" textLength="20.3" lengthAdjust="spacingAndGlyphs">1450</text>
<text x="56.40" y="263.1" font-size="9.9" text-anchor="middle" font-weight="normal" fill="#222" textLength="20.3" lengthAdjust="spacingAndGlyphs">1500</text>
<text x="85.90" y="263.1" font-size="9.9" text-anchor="middle" font-weight="normal" fill="#222" textLength="20.3" lengthAdjust="spacingAndGlyphs">1550</text>
<text x="115.80" y="263.1" font-size="9.9" text-anchor="middle" font-weight="normal" fill="#222" textLength="20.3" lengthAdjust="spacingAndGlyphs">1600</text>
<text x="147.40" y="263.1" font-size="9.9" text-anchor="middle" font-weight="normal" fill="#222" textLength="20.3" lengthAdjust="spacingAndGlyphs">1650</text>
<text x="176.90" y="263.1" font-size="9.9" text-anchor="middle" font-weight="normal" fill="#222" textLength="20.3" lengthAdjust="spacingAndGlyphs">1700</text>
<text x="206.40" y="263.1" font-size="9.9" text-anchor="middle" font-weight="normal" fill="#222" textLength="20.3" lengthAdjust="spacingAndGlyphs">1750</text>
<text x="235.80" y="263.1" font-size="9.9" text-anchor="middle" font-weight="normal" fill="#222" textLength="20.3" lengthAdjust="spacingAndGlyphs">1800</text>
<text x="303.10" y="263.1" font-size="9.9" text-anchor="middle" font-weight="normal" fill="#222" textLength="20.6" lengthAdjust="spacingAndGlyphs">1900</text>
<text x="342.10" y="263.1" font-size="9.9" text-anchor="middle" font-weight="normal" fill="#222" textLength="20.6" lengthAdjust="spacingAndGlyphs">2000</text>
<text x="381.50" y="263.1" font-size="9.9" text-anchor="middle" font-weight="normal" fill="#222" textLength="20.6" lengthAdjust="spacingAndGlyphs">2100</text>
<text x="418.10" y="263.1" font-size="9.9" text-anchor="middle" font-weight="normal" fill="#222" textLength="20.6" lengthAdjust="spacingAndGlyphs">2200</text>
<text x="455.20" y="263.1" font-size="9.9" text-anchor="middle" font-weight="normal" fill="#222" textLength="20.6" lengthAdjust="spacingAndGlyphs">2300</text>
<text x="497.10" y="263.1" font-size="9.9" text-anchor="middle" font-weight="normal" fill="#222" textLength="20.6" lengthAdjust="spacingAndGlyphs">2400</text>
<text x="533.70" y="263.1" font-size="9.9" text-anchor="middle" font-weight="normal" fill="#222" textLength="20.6" lengthAdjust="spacingAndGlyphs">2500</text>
<text x="62.5" y="279.8" font-size="10" text-anchor="start" font-weight="bold" fill="#1a1a1a" textLength="151.5" lengthAdjust="spacingAndGlyphs">Vibrational wavenumber (cm<tspan font-size="6.2" dy="-3.6">-1</tspan><tspan dy="3.6">)</tspan></text>
<text x="344.6" y="279.9" font-size="10" text-anchor="start" font-weight="bold" fill="#1a1a1a" textLength="151.5" lengthAdjust="spacingAndGlyphs">Vibrational wavenumber (cm<tspan font-size="6.2" dy="-3.6">-1</tspan><tspan dy="3.6">)</tspan></text>
<g transform="translate(16.4,194.6) rotate(-90)"><text x="0" y="0" font-size="10.4" text-anchor="start" font-weight="bold" fill="#1a1a1a" textLength="75" lengthAdjust="spacingAndGlyphs">Intensity (a. u.)</text></g>
<g transform="translate(272.8,196.3) rotate(-90)"><text x="0" y="0" font-size="10.4" text-anchor="start" font-weight="bold" fill="#1a1a1a" textLength="75" lengthAdjust="spacingAndGlyphs">Intensity (a. u.)</text></g>
<text x="32.7" y="28.5" font-size="12" text-anchor="start" font-weight="normal" fill="#333" textLength="12.2" lengthAdjust="spacingAndGlyphs" stroke="#333" stroke-width="0.12">(a)</text>
<text x="34.4" y="145.8" font-size="12" text-anchor="start" font-weight="normal" fill="#333" textLength="12.7" lengthAdjust="spacingAndGlyphs" stroke="#333" stroke-width="0.12">(b)</text>
<text x="296.5" y="27.7" font-size="11.4" text-anchor="start" font-weight="normal" fill="#222" textLength="11.8" lengthAdjust="spacingAndGlyphs" stroke="#222" stroke-width="0.3">(c)</text>
<text x="295.0" y="152.0" font-size="11.6" text-anchor="start" font-weight="normal" fill="#222" textLength="13.0" lengthAdjust="spacingAndGlyphs" stroke="#222" stroke-width="0.25">(d)</text>
<line x1="185" y1="18.4" x2="201" y2="18.4" stroke="#7a7a7a" stroke-width="0.8"/>
<text x="204.5" y="20.6" font-size="8.1" text-anchor="start" font-weight="normal" fill="#151515" textLength="15.0" lengthAdjust="spacingAndGlyphs">H<tspan font-size="5" dy="1.6">2</tspan><tspan dy="-1.6">O</tspan></text>
<line x1="185" y1="29.4" x2="199" y2="29.4" stroke="#22c46e" stroke-width="1.4" stroke-dasharray="2.8 2.3"/>
<text x="204.5" y="31.2" font-size="8.1" text-anchor="start" font-weight="normal" fill="#151515" textLength="35.6" lengthAdjust="spacingAndGlyphs">H<tspan font-size="5" dy="1.6">2</tspan><tspan dy="-1.6">O</tspan><tspan font-size="5.2"> in D</tspan><tspan font-size="3.8" dy="1.2">2</tspan><tspan font-size="5.2" dy="-1.2">O</tspan></text>
<line x1="185" y1="40.4" x2="201" y2="40.4" stroke="#b4b4b4" stroke-width="0.8"/>
<text x="204.5" y="42.9" font-size="8.1" text-anchor="start" font-weight="normal" fill="#151515" textLength="18.4" lengthAdjust="spacingAndGlyphs">NaCl</text>
<line x1="185" y1="49.9" x2="201" y2="49.9" stroke="#ff4455" stroke-width="1.8"/>
<text x="204.5" y="52.3" font-size="8.1" text-anchor="start" font-weight="normal" fill="#151515" textLength="12.8" lengthAdjust="spacingAndGlyphs">NaI</text>
<line x1="183.6" y1="159.2" x2="198.3" y2="159.2" stroke="#7a7a7a" stroke-width="0.8"/>
<text x="202.6" y="161.9" font-size="8.1" text-anchor="start" font-weight="normal" fill="#151515" textLength="14.5" lengthAdjust="spacingAndGlyphs">H<tspan font-size="5" dy="1.6">2</tspan><tspan dy="-1.6">O</tspan></text>
<line x1="183.6" y1="170.1" x2="197" y2="170.1" stroke="#22c46e" stroke-width="1.3" stroke-dasharray="2.7 2.2"/>
<text x="202.6" y="172.8" font-size="8.1" text-anchor="start" font-weight="normal" fill="#151515" textLength="35.9" lengthAdjust="spacingAndGlyphs">H<tspan font-size="5" dy="1.6">2</tspan><tspan dy="-1.6">O</tspan><tspan font-size="5.2"> in D</tspan><tspan font-size="3.8" dy="1.2">2</tspan><tspan font-size="5.2" dy="-1.2">O</tspan></text>
<line x1="183.6" y1="181.2" x2="198.3" y2="181.2" stroke="#ffb01e" stroke-width="1.3"/>
<text x="202.6" y="184.2" font-size="8.1" text-anchor="start" font-weight="normal" fill="#151515" textLength="30.0" lengthAdjust="spacingAndGlyphs">Na<tspan font-size="5" dy="1.6">2</tspan><tspan dy="-1.6">SO</tspan><tspan font-size="5" dy="1.6">4</tspan></text>
<line x1="183.6" y1="192.1" x2="198.3" y2="192.1" stroke="#8c5ccc" stroke-width="1.3"/>
<text x="202.6" y="195" font-size="8.1" text-anchor="start" font-weight="normal" fill="#151515" textLength="30.8" lengthAdjust="spacingAndGlyphs">Na<tspan font-size="5" dy="1.6">2</tspan><tspan dy="-1.6">CO</tspan><tspan font-size="5" dy="1.6">3</tspan></text>
<line x1="454.3" y1="28" x2="477.1" y2="28" stroke="#3a3a3a" stroke-width="1" stroke-dasharray="1.6 0.7"/>
<text x="482.3" y="31.2" font-size="11.9" text-anchor="start" font-weight="normal" fill="#111" textLength="23.4" lengthAdjust="spacingAndGlyphs">H<tspan font-size="7.8" dy="2.4">2</tspan><tspan dy="-2.4">O</tspan></text>
<line x1="454.3" y1="43.6" x2="477.1" y2="43.6" stroke="#a8a8a8" stroke-width="1"/>
<text x="482.3" y="47" font-size="11.9" text-anchor="start" font-weight="normal" fill="#111" textLength="27.2" lengthAdjust="spacingAndGlyphs">NaCl</text>
<line x1="454.3" y1="57.4" x2="477.1" y2="57.4" stroke="#ff1a1a" stroke-width="1.3"/>
<text x="482.3" y="61.1" font-size="11.9" text-anchor="start" font-weight="normal" fill="#111" textLength="19.2" lengthAdjust="spacingAndGlyphs">NaI</text>
<line x1="454.1" y1="153.3" x2="476.3" y2="153.3" stroke="#3a3a3a" stroke-width="1" stroke-dasharray="1.6 0.7"/>
<text x="482.5" y="156.8" font-size="11.9" text-anchor="start" font-weight="normal" fill="#111" textLength="22.7" lengthAdjust="spacingAndGlyphs">H<tspan font-size="7.8" dy="2.4">2</tspan><tspan dy="-2.4">O</tspan></text>
<line x1="454.1" y1="168.6" x2="476.3" y2="168.6" stroke="#ffb01e" stroke-width="1.3"/>
<text x="482.5" y="172.3" font-size="11.9" text-anchor="start" font-weight="normal" fill="#111" textLength="43.4" lengthAdjust="spacingAndGlyphs">Na<tspan font-size="7.8" dy="2.4">2</tspan><tspan dy="-2.4">SO</tspan><tspan font-size="7.8" dy="2.4">4</tspan></text>
<line x1="454.1" y1="184.8" x2="476.3" y2="184.8" stroke="#8c5ccc" stroke-width="1.3"/>
<text x="482.5" y="188.4" font-size="11.9" text-anchor="start" font-weight="normal" fill="#111" textLength="43.4" lengthAdjust="spacingAndGlyphs">Na<tspan font-size="7.8" dy="2.4">2</tspan><tspan dy="-2.4">CO</tspan><tspan font-size="7.8" dy="2.4">3</tspan></text>
</svg>
</body></html>
